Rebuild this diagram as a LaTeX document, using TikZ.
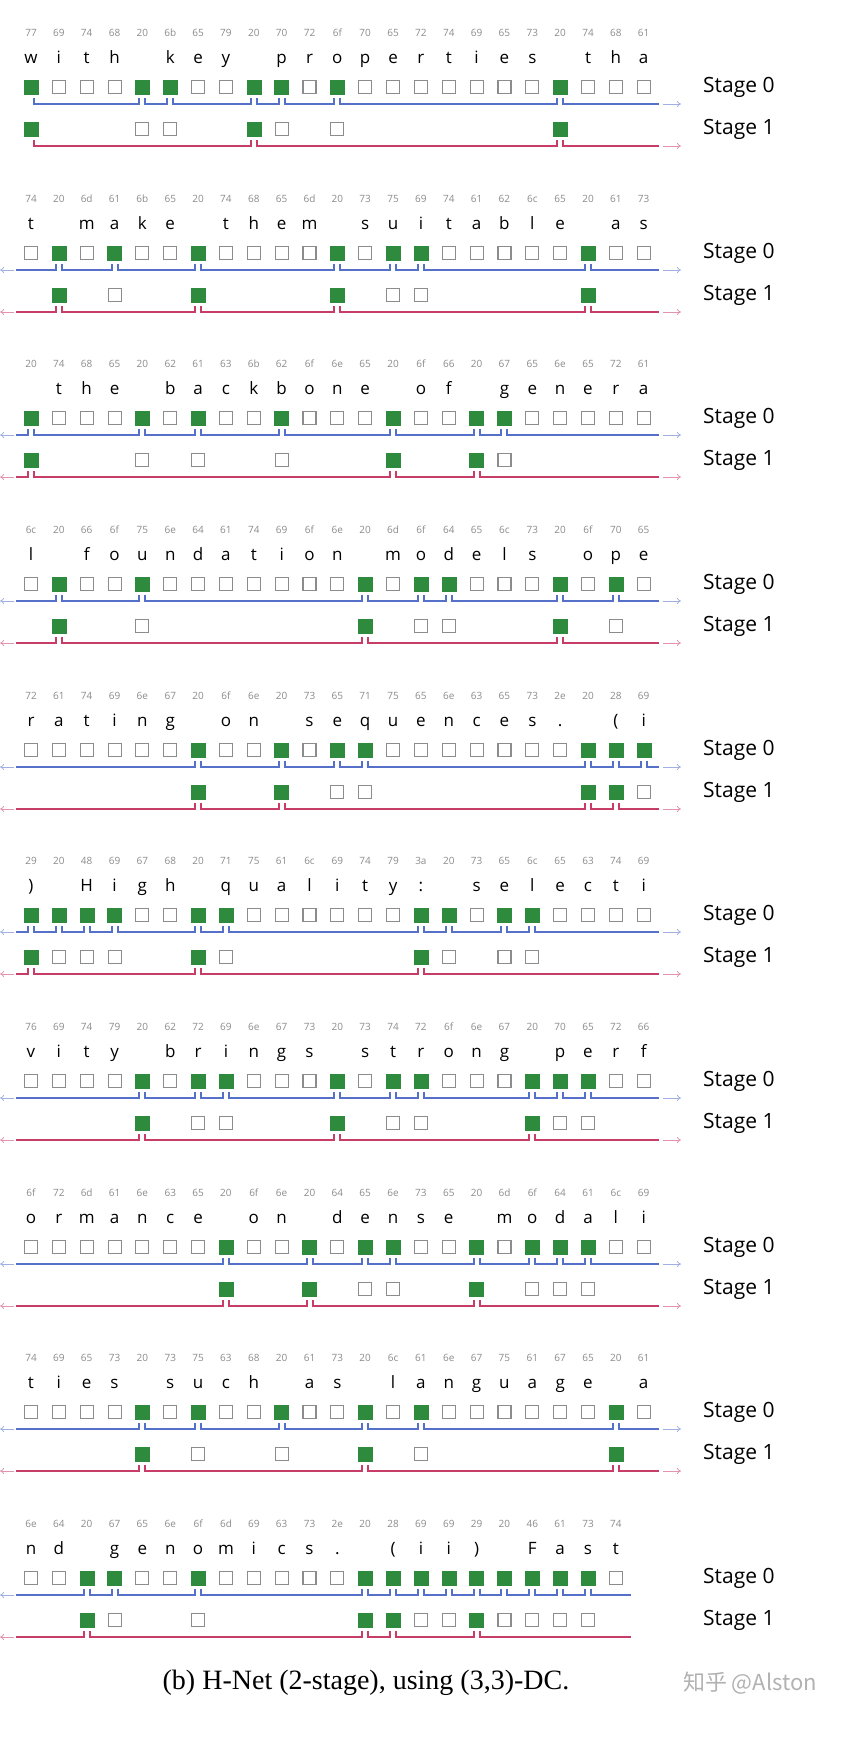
\documentclass[tikz,border=0pt]{standalone}
\usepackage{fontspec}
\usetikzlibrary{arrows.meta}
\setmainfont{Liberation Serif}
\newfontfamily\sansf{Open Sans}
\newfontfamily\cjk{Noto Sans CJK SC}
\definecolor{sqgreen}{HTML}{2E8B3E}
\definecolor{bblue}{HTML}{5470C8}
\definecolor{rred}{HTML}{C83C68}
\tikzset{
  sqw/.style={minimum size=13pt,inner sep=0pt,draw=black!45,fill=white,line width=1.1pt},
  sqg/.style={minimum size=14pt,inner sep=0pt,draw=sqgreen,fill=sqgreen},
  hexlab/.style={font=\sansf\fontsize{10}{10}\selectfont,text=black!45,inner sep=0pt},
  letlab/.style={font=\sansf\fontsize{17}{17}\selectfont,inner sep=0pt},
  stlab/.style={font=\sansf\fontsize{21}{21}\selectfont,anchor=west,inner sep=0pt},
  brk/.style={line width=2pt,line cap=butt,line join=miter},
  arr/.style={line width=0.8pt,-{To[length=4pt,width=6pt]}}
}
% bracket row: #1 y, #2 colour, #3 green cols, #4 left mode, #5 end x
\newcommand\brkrow[5]{%
  \ifnum#4=1 \gdef\px{16}\else\gdef\px{-1}\fi
  \gdef\ptk{0}%
  \foreach \c in {#3}{%
    \pgfmathsetmacro\cx{31+27.85*\c}%
    \pgfmathsetmacro\ex{\cx-3}%
    \ifdim\px pt>0pt
      \ifnum\ptk=1
        \draw[brk,#2] (\px,#1-6) -- (\px,#1) -- (\ex,#1) -- (\ex,#1-6);
      \else
        \draw[brk,#2] (\px,#1) -- (\ex,#1) -- (\ex,#1-6);
      \fi
    \fi
    \pgfmathsetmacro\sx{\cx+3}%
    \xdef\px{\sx}\xdef\ptk{1}%
  }%
  \ifnum\ptk=1
    \draw[brk,#2] (\px,#1-6) -- (\px,#1) -- (#5,#1);
  \else
    \draw[brk,#2] (\px,#1) -- (#5,#1);
  \fi
  \ifnum#4=1 \draw[arr,#2!55] (14,#1) -- (0,#1);\fi
  \ifdim#5pt>640pt \draw[arr,#2!55] (663,#1) -- (681,#1);\fi
}
% block: #1 index, #2 y0, #3 hex, #4 letters, #5 g0, #6 g1, #7 left mode, #8 end x
\newcommand\blk[8]{%
  \foreach \h [count=\i from 0] in {#3}{%
    \node[hexlab] (h#1-\i) at (31+27.85*\i,#2-54) {\h};
    \node[sqw] (s#1-\i) at (31+27.85*\i,#2) {};
  }
  \foreach \l [count=\i from 0] in {#4}{%
    \node[letlab] (l#1-\i) at (31+27.85*\i,#2-27) {\strut\l};
  }
  \foreach \g in {#5}{%
    \node[sqg] (g#1-\g) at (31+27.85*\g,#2) {};
    \node[sqw] (t#1-\g) at (31+27.85*\g,#2+42) {};
  }
  \foreach \g in {#6}{%
    \node[sqg] (u#1-\g) at (31+27.85*\g,#2+42) {};
  }
  \brkrow{#2+17}{bblue}{#5}{#7}{#8}
  \brkrow{#2+59}{rred}{#6}{#7}{#8}
  \node[stlab] (st0-#1) at (703,#2) {Stage 0};
  \node[stlab] (st1-#1) at (703,#2+42) {Stage 1};
}
\begin{document}
\begin{tikzpicture}[x=1pt,y=-1pt]
\useasboundingbox (0,0) rectangle (849,1742);
\fill[white] (0,0) rectangle (849,1742);
\blk{1}{87}{77,69,74,68,20,6b,65,79,20,70,72,6f,70,65,72,74,69,65,73,20,74,68,61}{w,i,t,h,~,k,e,y,~,p,r,o,p,e,r,t,i,e,s,~,t,h,a}{0,4,5,8,9,11,19}{0,8,19}{0}{659}
\blk{2}{253}{74,20,6d,61,6b,65,20,74,68,65,6d,20,73,75,69,74,61,62,6c,65,20,61,73}{t,~,m,a,k,e,~,t,h,e,m,~,s,u,i,t,a,b,l,e,~,a,s}{1,3,6,11,13,14,20}{1,6,11,20}{1}{659}
\blk{3}{418}{20,74,68,65,20,62,61,63,6b,62,6f,6e,65,20,6f,66,20,67,65,6e,65,72,61}{~,t,h,e,~,b,a,c,k,b,o,n,e,~,o,f,~,g,e,n,e,r,a}{0,4,6,9,13,16,17}{0,13,16}{1}{659}
\blk{4}{584}{6c,20,66,6f,75,6e,64,61,74,69,6f,6e,20,6d,6f,64,65,6c,73,20,6f,70,65}{l,~,f,o,u,n,d,a,t,i,o,n,~,m,o,d,e,l,s,~,o,p,e}{1,4,12,14,15,19,21}{1,12,19}{1}{659}
\blk{5}{750}{72,61,74,69,6e,67,20,6f,6e,20,73,65,71,75,65,6e,63,65,73,2e,20,28,69}{r,a,t,i,n,g,~,o,n,~,s,e,q,u,e,n,c,e,s,.,~,{(},i}{6,9,11,12,20,21,22}{6,9,20,21}{1}{659}
\blk{6}{915}{29,20,48,69,67,68,20,71,75,61,6c,69,74,79,3a,20,73,65,6c,65,63,74,69}{{)},~,H,i,g,h,~,q,u,a,l,i,t,y,:,~,s,e,l,e,c,t,i}{0,1,2,3,6,7,14,15,17,18}{0,6,14}{1}{659}
\blk{7}{1081}{76,69,74,79,20,62,72,69,6e,67,73,20,73,74,72,6f,6e,67,20,70,65,72,66}{v,i,t,y,~,b,r,i,n,g,s,~,s,t,r,o,n,g,~,p,e,r,f}{4,6,7,11,13,14,18,19,20}{4,11,18}{1}{659}
\blk{8}{1247}{6f,72,6d,61,6e,63,65,20,6f,6e,20,64,65,6e,73,65,20,6d,6f,64,61,6c,69}{o,r,m,a,n,c,e,~,o,n,~,d,e,n,s,e,~,m,o,d,a,l,i}{7,10,12,13,16,18,19,20}{7,10,16}{1}{659}
\blk{9}{1412}{74,69,65,73,20,73,75,63,68,20,61,73,20,6c,61,6e,67,75,61,67,65,20,61}{t,i,e,s,~,s,u,c,h,~,a,s,~,l,a,n,g,u,a,g,e,~,a}{4,6,9,12,14,21}{4,12,21}{1}{659}
\blk{10}{1578}{6e,64,20,67,65,6e,6f,6d,69,63,73,2e,20,28,69,69,29,20,46,61,73,74}{n,d,~,g,e,n,o,m,i,c,s,.,~,{(},i,i,{)},~,F,a,s,t}{2,3,6,12,13,14,15,16,17,18,19,20}{2,12,13,16}{1}{631}
\node[font=\fontsize{28}{28}\selectfont,inner sep=0pt] (cap) at (366,1683) {(b) H-Net (2-stage), using (3,3)-DC.};
\node[font=\cjk\fontsize{22}{22}\selectfont,text=black!30,inner sep=0pt] (wm) at (750,1683) {知乎 @Alston};
\end{tikzpicture}
\end{document}
